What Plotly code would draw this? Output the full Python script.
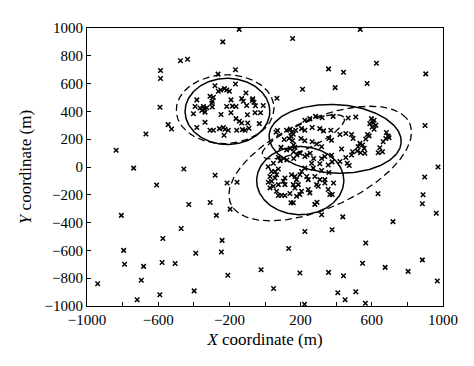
import numpy as np
import plotly.graph_objects as go

# ---------------- data ----------------
# scattered background nodes
bg_x = [-145, 535, -237, 155, -475, -435, -587, -587, -590, 626, 357, 441, 903, 574, 394, 211,
        -166, -264, 67, -544, -525, -669, -836, -738, -456, -609, -280, -213, -157, -308, -428,
        -196, -273, -807, -471, -574, -241, -794, -245, -389, -789, -578, -505, -682, -695, -940,
        -209, -22, 48, -398, -591, -718, 133, 196, 224, 318, 377, 437, 357, 441, 409, 450, 510,
        222, 564, 548, 566, 675, 804, 884, 968, 719, 635, 888, 884, 962, 897, 972, 899]
bg_y = [990, 990, 900, 925, 765, 775, 694, 637, 430, 746, 706, 682, 670, 601, 571, 559,
        700, 668, 495, 305, 274, 238, 120, -8, -15, -130, -60, -115, -110, -255, -270,
        -303, -348, -348, -442, -514, -528, -600, -611, -620, -700, -687, -694, -715, -815, -840,
        -779, -739, -874, -891, -919, -955, -587, -763, -464, -343, -452, -359, -758, -782, -905, -955, -898,
        -988, -980, -692, -547, -722, -751, -668, -820, -393, -193, -200, -264, -333, -72, 0, 298]

# cluster 1 (upper left)
c1_x = [-281, -166, -262, -249, -228, -215, -200, -107, -309, -290, -191, -131, -69, -383, -296,
        -299, -122, -71, -62, -346, -365, -393, -340, -327, -296, -215, -183, -163, -103, -54,
        -10, -402, -337, -355, -247, -191, -56, -25, -99, -337, -163, -144, -131, -97, -32,
        -383, -256, -234, -225, -90, -112, -309, -290, -206, -159, -127, -230]
c1_y = [585, 597, 545, 554, 564, 554, 545, 533, 509, 502, 483, 492, 490, 483, 473,
        459, 473, 478, 466, 435, 424, 435, 419, 426, 431, 435, 438, 435, 443, 440,
        443, 383, 395, 407, 378, 390, 390, 390, 376, 322, 348, 329, 317, 317, 312,
        284, 276, 284, 272, 279, 265, 265, 265, 265, 265, 269, 229]

# cluster 2 (right, elongated)
c2_x = [467, 510, 598, 613, 608, 589, 623, 602, 613, 421, 454, 486, 495, 576, 585, 566, 682, 692,
        679, 697, 664, 533, 548, 523, 557, 518, 537, 561, 492, 486, 454, 462, 473, 421, 645, 660,
        636, 430,
        224, 252, 284, 321, 383, 121, 142, 149, 159, 146, 172, 205, 224, 265, 308, 329, 370,
        108, 135, 155, 161, 168, 202, 224, 265, 290, 318, 359, 374, 90, 121, 142, 161, 179, 198,
        236, 254, 273, 224, 318, 336, 374, 75, 86, 105, 123, 161, 262, 308, 355, 377, 62, 70]
c2_y = [352, 360, 348, 336, 319, 312, 300, 288, 272, 234, 241, 234, 205, 234, 224, 201, 248, 222,
        205, 210, 182, 170, 158, 146, 134, 115, 103, 99, 110, 87, 68, 27, 11, 39, 139, 110,
        103, 129,
        336, 348, 364, 355, 364, 265, 274, 250, 236, 222, 265, 276, 265, 284, 276, 260, 265,
        198, 205, 189, 158, 141, 205, 189, 182, 165, 146, 205, 193, 141, 122, 134, 110, 87, 99,
        87, 99, 61, 75, 61, 75, 84, 70, 46, 61, 51, 61, 27, 23, 15, 37, 250, 262]

# cluster 3 (lower centre)
c3_x = [18, 47, 56, 75, 37, 28, 65, 56, 37, 18, 28, 47, 75, 65, 75, 93, 112, 140, 112, 103,
        112, 149, 168, 177, 196, 159, 168, 187, 234, 243, 280, 308, 336, 290, 299, 336, 355, 364,
        378, 243, 252, 205, 196, 177, 146, 159, 280, 292, 224, 271, 318, 206, 385, 359]
c3_y = [2, 27, -32, -15, -32, -68, -56, -79, -103, -110, -150, -139, -127, -174, -205, -203, -205,
        -191, -79, -103, -127, -56, -68, -91, -56, -127, -151, -127, -68, -91, -68, -91, -91, -127,
        -139, -115, -162, -198, -198, -162, -186, -174, -198, -210, -257, -257, -269, -253, -8, -8,
        -25, -32, -115, -40]

# ellipses: centre x, centre y, semi-axis a, semi-axis b, rotation (deg)
solid_cx = [-211, 394, 198]
solid_cy = [400, 203, -98]
solid_a = [238, 372, 245]
solid_b = [238, 246, 245]
solid_rot = [0, -5, 0]

dash_cx = [-224, 310, 215]
dash_cy = [416, 25, 217]
dash_a = [275, 584, 268]
dash_b = [247, 303, 85]
dash_rot = [8, 34, 32]

x_ticks = list(range(-1000, 1001, 200))
x_labels = ["−1000", "", "−600", "", "−200", "", "200", "", "600", "", "1000"]
y_ticks = list(range(-1000, 1001, 200))


def ellipse(cx, cy, a, b, rot):
    t = np.linspace(0, 2 * np.pi, 241)
    r = np.deg2rad(rot)
    ex = cx + a * np.cos(t) * np.cos(r) - b * np.sin(t) * np.sin(r)
    ey = cy + a * np.cos(t) * np.sin(r) + b * np.sin(t) * np.cos(r)
    return ex, ey


fig = go.Figure()

for i in range(len(solid_cx)):
    ex, ey = ellipse(solid_cx[i], solid_cy[i], solid_a[i], solid_b[i], solid_rot[i])
    fig.add_trace(go.Scatter(x=ex, y=ey, mode="lines", line=dict(color="black", width=1.5),
                             showlegend=False, hoverinfo="skip"))
for i in range(len(dash_cx)):
    ex, ey = ellipse(dash_cx[i], dash_cy[i], dash_a[i], dash_b[i], dash_rot[i])
    fig.add_trace(go.Scatter(x=ex, y=ey, mode="lines",
                             line=dict(color="black", width=1.3, dash="7px,4px"),
                             showlegend=False, hoverinfo="skip"))

all_x = bg_x + c1_x + c2_x + c3_x
all_y = bg_y + c1_y + c2_y + c3_y
fig.add_trace(go.Scatter(x=all_x, y=all_y, mode="markers",
                         marker=dict(symbol="x-thin", size=4.5, color="black",
                                     line=dict(color="black", width=1.5)),
                         showlegend=False))

axis_common = dict(showgrid=False, zeroline=False, showline=True, mirror=True,
                   linecolor="black", linewidth=1, ticks="inside", ticklen=4,
                   tickcolor="black", tickwidth=1, tickfont=dict(size=15))

fig.update_layout(
    width=474, height=366,
    margin=dict(l=79, r=39, t=17, b=68),
    paper_bgcolor="white", plot_bgcolor="white",
    font=dict(family="Liberation Serif", size=14, color="black"),
    xaxis=dict(range=[-1000, 1000], tickvals=x_ticks, ticktext=x_labels,
               title=dict(text="<i>X</i> coordinate (m)", standoff=6), **axis_common),
    yaxis=dict(range=[-1000, 1000], tickvals=y_ticks,
               title=dict(text="<i>Y</i> coordinate (m)", standoff=8), **axis_common),
)

fig.write_html("out.html")
